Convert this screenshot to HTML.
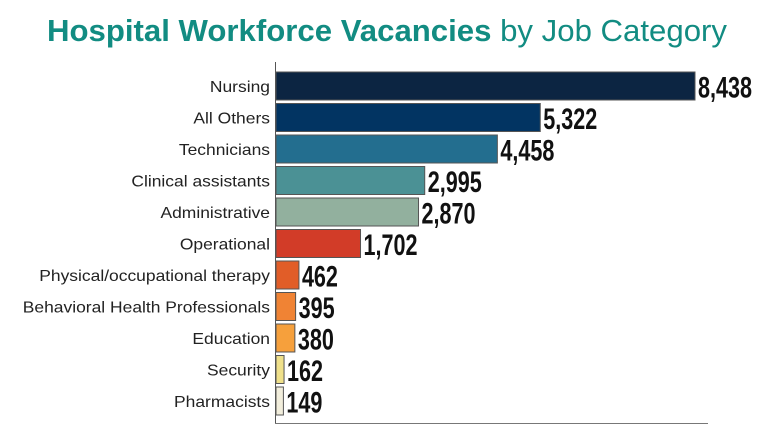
<!DOCTYPE html>
<html><head><meta charset="utf-8"><style>
html,body{margin:0;padding:0;background:#fff;}
svg{display:block;}
</style></head><body>
<svg id="chart" width="768" height="446" viewBox="0 0 768 446" xmlns="http://www.w3.org/2000/svg">
<text x="47" y="41" font-family="'Liberation Sans', sans-serif" font-size="31" fill="#128c82" textLength="680" lengthAdjust="spacingAndGlyphs"><tspan font-weight="bold">Hospital Workforce Vacancies</tspan> by Job Category</text>
<line x1="275.5" y1="62" x2="275.5" y2="424" stroke="#555" stroke-width="1"/>
<line x1="275" y1="423.5" x2="708" y2="423.5" stroke="#777" stroke-width="1"/>
<g id="bars"></g>
</svg>
<script>
const categories = ["Nursing","All Others","Technicians","Clinical assistants","Administrative","Operational","Physical/occupational therapy","Behavioral Health Professionals","Education","Security","Pharmacists"];
const values = [8438,5322,4458,2995,2870,1702,462,395,380,162,149];
const labels = ["8,438","5,322","4,458","2,995","2,870","1,702","462","395","380","162","149"];
const colors = ["#0c2542","#023462","#236e8f","#4b9195","#92b09e","#d23c28","#e15d28","#f08334","#f6a03c","#efe08a","#f2eedc"];

const x0 = 276, xMax = 8438, wMax = 419;
function xScale(v){ return wMax * v / xMax; }
function yScale(i){ return 72 + i * 31.5; }
const barH = 28;
const g = document.getElementById('bars');
const NS = "http://www.w3.org/2000/svg";
categories.forEach((c,i)=>{
  const y = yScale(i);
  const w = Math.max(xScale(values[i]), 6);
  const r = document.createElementNS(NS,'rect');
  
  
  r.setAttribute('x', x0); r.setAttribute('y', y);
  r.setAttribute('width', w); r.setAttribute('height', barH);
  r.setAttribute('fill', colors[i]); r.setAttribute('stroke', '#555'); r.setAttribute('stroke-width', '1');
  g.appendChild(r);
  const t = document.createElementNS(NS,'text');
  
  
  t.setAttribute('x', 270); t.setAttribute('y', y + 20);
  t.setAttribute('text-anchor', 'end');
  t.setAttribute('font-family', "'Liberation Sans', sans-serif");
  t.setAttribute('font-size', '16'); t.setAttribute('fill', '#222');
  t.textContent = c;
  g.appendChild(t);
  const L = t.getComputedTextLength();
  t.setAttribute('textLength', L * 1.09);
  t.setAttribute('lengthAdjust', 'spacingAndGlyphs');
  const v = document.createElementNS(NS,'text');
  
  
  v.setAttribute('x', x0 + w + 3); v.setAttribute('y', y + 25.5);
  v.setAttribute('font-family', "'Liberation Sans Narrow', 'Liberation Sans', sans-serif");
  v.setAttribute('font-weight', 'bold');
  v.setAttribute('font-size', '30'); v.setAttribute('fill', '#111');
  v.setAttribute('textLength', labels[i].length * 12 - (labels[i].includes(',') ? 6 : 0));
  v.setAttribute('lengthAdjust', 'spacingAndGlyphs');
  v.textContent = labels[i];
  g.appendChild(v);
});
</script>
</body></html>
